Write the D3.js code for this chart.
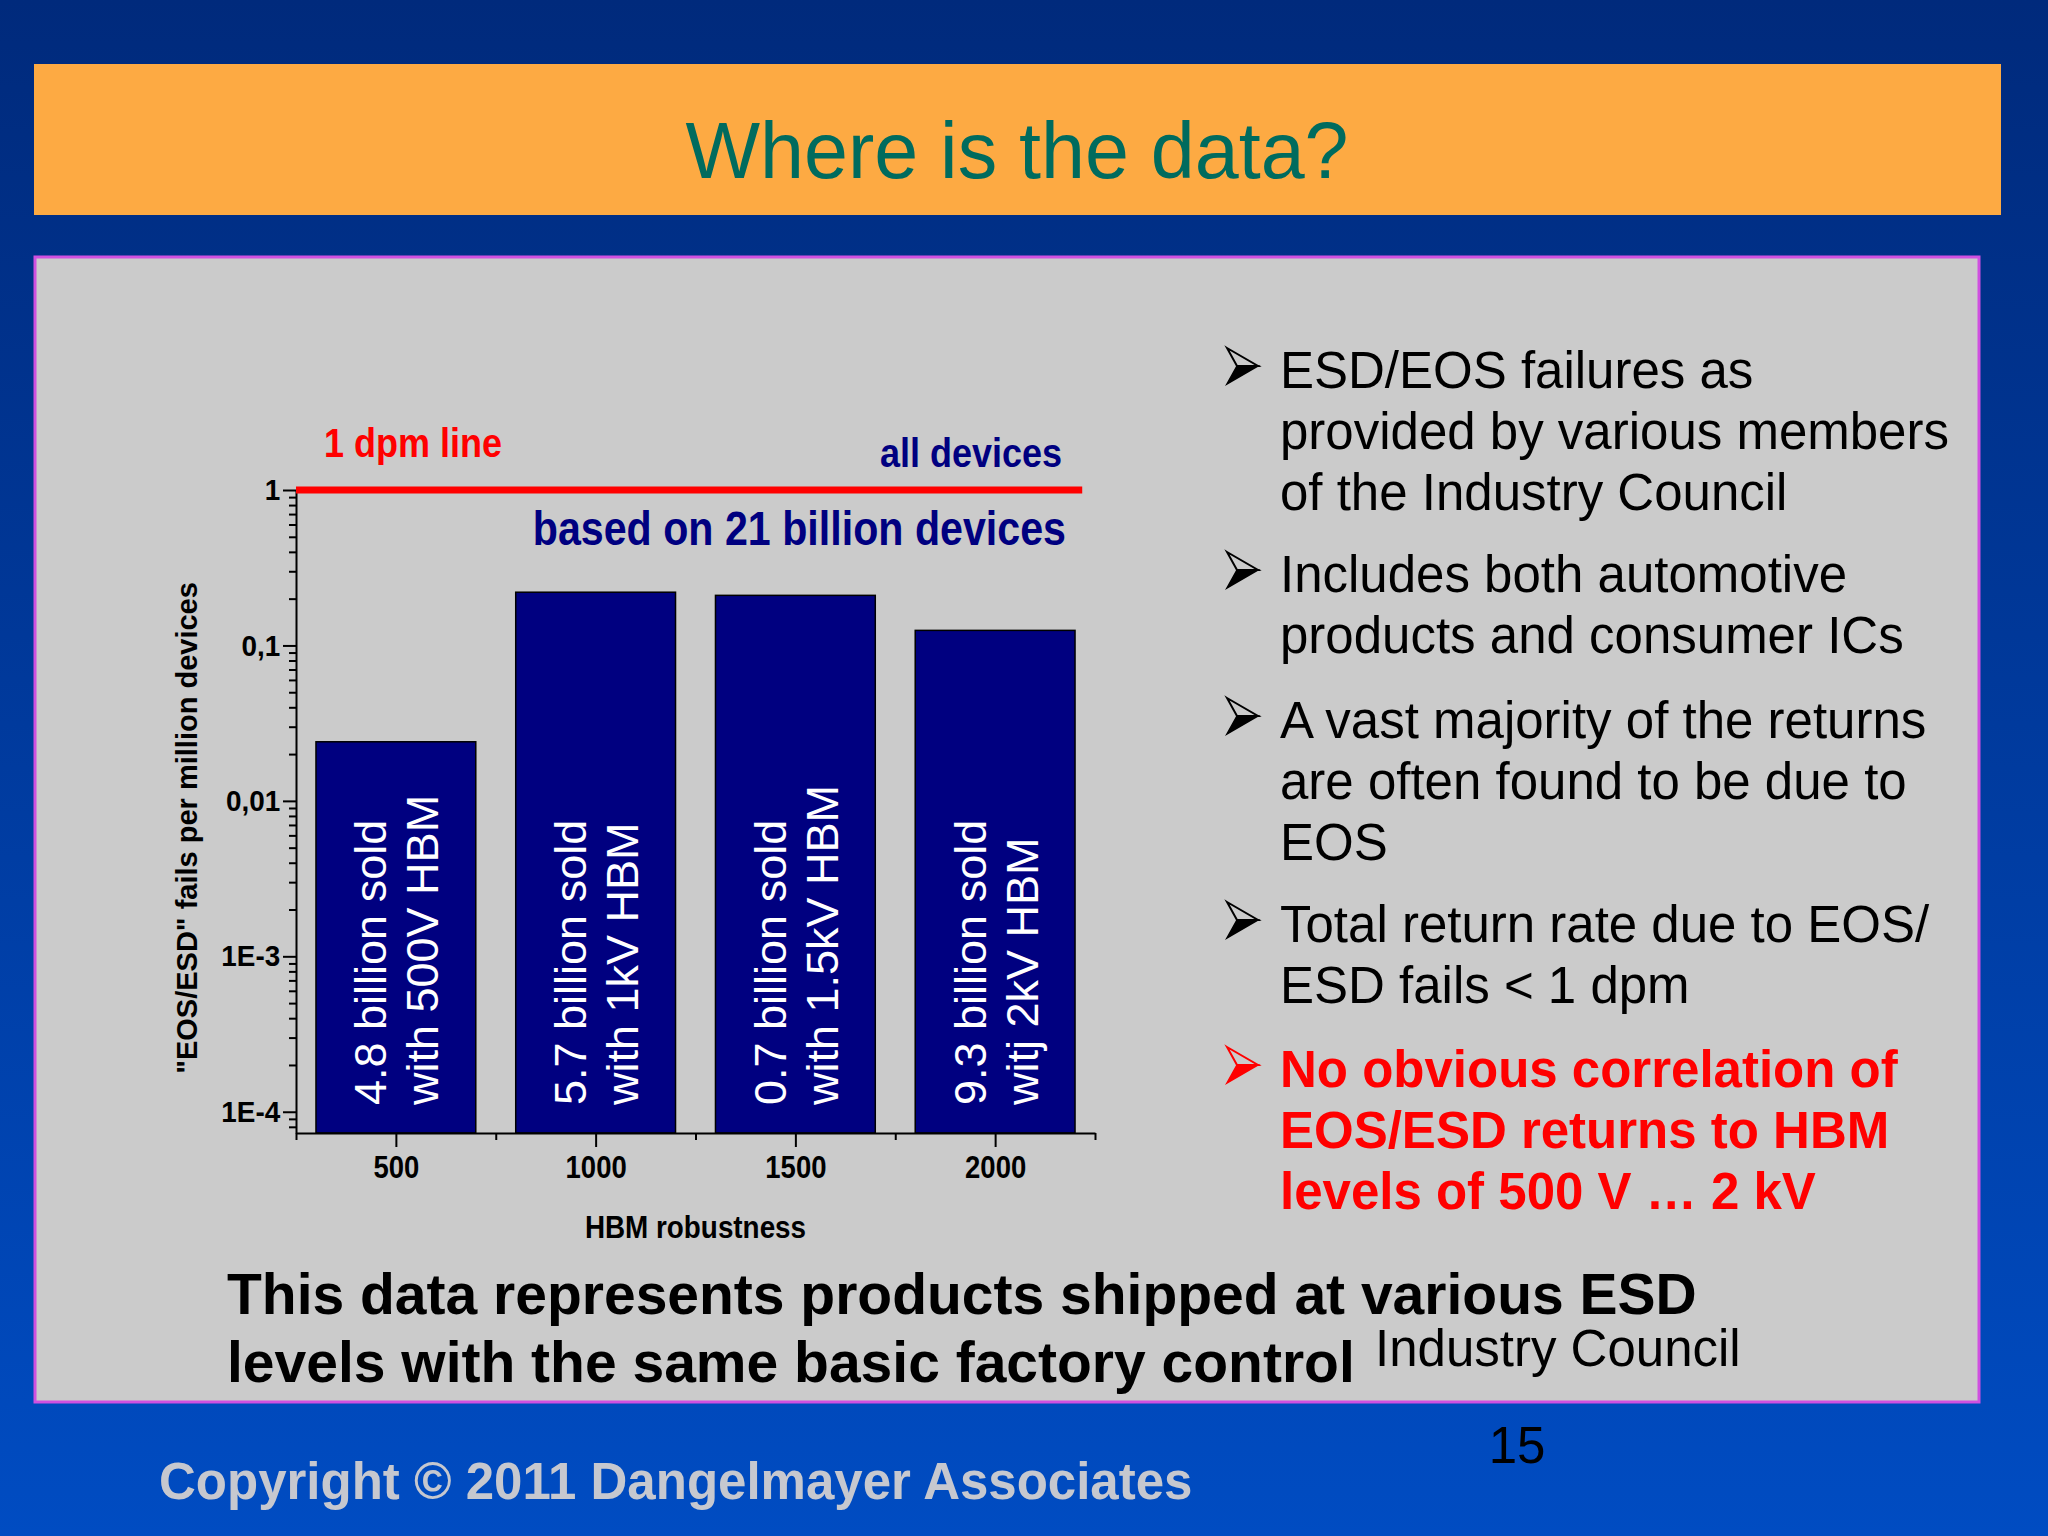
<!DOCTYPE html>
<html>
<head>
<meta charset="utf-8">
<script src="https://cdn.jsdelivr.net/npm/d3@7"></script>
<style>
  body { margin: 0; background: #00338f; }
  svg { display: block; }
  .narrow { font-family: "Liberation Sans Narrow", "Arial Narrow", "Liberation Sans", sans-serif; font-weight: bold; }
</style>
</head>
<body>
<div id="slide"></div>
<script>
// chart values
const hbmLevels = [500, 1000, 1500, 2000];
const failRates = [0.024, 0.22, 0.21, 0.125];
const soldLines = ["4.8 billion sold", "5.7 billion sold", "0.7 billion sold", "9.3 billion sold"];
const hbmLines = ["with 500V HBM", "with 1kV HBM", "with 1.5kV HBM", "witj 2kV HBM"];
const xTickValues = [500, 1000, 1500, 2000];
const xMinorTicks = [250, 750, 1250, 1750, 2250];
const yTickValues = [1, 0.1, 0.01, 1e-3, 1e-4];
const yTickLabels = ["1", "0,1", "0,01", "1E-3", "1E-4"];
const dpmLimit = 1;

const bullets = [
  ["ESD/EOS failures as", "provided by various members", "of the Industry Council"],
  ["Includes both automotive", "products and consumer ICs"],
  ["A vast majority of the returns", "are often found to be due to", "EOS"],
  ["Total return rate due to EOS/", "ESD fails < 1 dpm"],
  ["No obvious correlation of", "EOS/ESD returns to HBM", "levels of 500 V \u2026 2 kV"]
];
const bulletTops = [388, 592, 738, 942, 1087];

const W = 2048, H = 1536;
const svg = d3.select("#slide").append("svg")
    .attr("width", W)
    .attr("height", H);

// narrow bold text: no condensed face installed, so squeeze it
function narrowText(g, x, y, str, size, sx, anchor) {
  return g.append("text").attr("class", "narrow")
      .attr("transform", `translate(${x},${y}) scale(${sx},1)`)
      .attr("text-anchor", anchor || "start")
      .attr("font-size", size)
      .text(str);
}

// background
const defs = svg.append("defs");
const grad = defs.append("linearGradient").attr("id", "bg").attr("x1", 0).attr("y1", 0).attr("x2", 0).attr("y2", 1);
grad.append("stop").attr("offset", "0%").attr("stop-color", "#002a7c");
grad.append("stop").attr("offset", "100%").attr("stop-color", "#004cc2");
svg.append("rect").attr("width", W).attr("height", H).attr("fill", "url(#bg)");

// title bar
svg.append("rect").attr("x", 34).attr("y", 64).attr("width", 1967).attr("height", 151).attr("fill", "#fdaa43");
svg.append("text")
    .attr("x", 1017).attr("y", 178)
    .attr("text-anchor", "middle")
    .attr("font-family", "Liberation Sans, Arial, sans-serif")
    .attr("font-size", 79)
    .attr("fill", "#006b5e")
    .text("Where is the data?");

// grey panel
svg.append("rect").attr("x", 35).attr("y", 257).attr("width", 1944).attr("height", 1145)
    .attr("fill", "#cbcbcb").attr("stroke", "#d050e0").attr("stroke-width", 3);

// ---- chart ----
const x = d3.scaleLinear().domain([250, 2250]).range([296, 1095]);
const y = d3.scaleLog().domain([7.3e-5, 1]).range([1133, 490]);
const barHalf = 200;

const chart = svg.append("g");

chart.selectAll("rect.bar")
    .data(failRates)
    .enter()
    .append("rect")
    .attr("class", "bar")
    .attr("x", (d, i) => x(hbmLevels[i] - barHalf))
    .attr("width", (d, i) => x(hbmLevels[i] + barHalf) - x(hbmLevels[i] - barHalf))
    .attr("y", d => y(d))
    .attr("height", d => y.range()[0] - y(d))
    .attr("fill", "#000080")
    .attr("stroke", "#000")
    .attr("stroke-width", 1.5);

// rotated labels inside bars
const labelG = chart.selectAll("g.blabel")
    .data(hbmLevels)
    .enter()
    .append("g")
    .attr("class", "blabel")
    .attr("transform", d => `translate(${x(d)},${y.range()[0] - 28}) rotate(-90)`);
labelG.append("text")
    .attr("y", -25)
    .attr("dominant-baseline", "central")
    .attr("font-family", "Liberation Sans, Arial, sans-serif")
    .attr("font-size", 45)
    .attr("fill", "#fff")
    .text((d, i) => soldLines[i]);
labelG.append("text")
    .attr("y", 27)
    .attr("dominant-baseline", "central")
    .attr("font-family", "Liberation Sans, Arial, sans-serif")
    .attr("font-size", 45)
    .attr("fill", "#fff")
    .text((d, i) => hbmLines[i]);

// y axis: minor ticks then major ticks
const minorY = y.ticks().filter(v => !yTickValues.some(t => Math.abs(t - v) < t * 1e-6));
chart.append("g")
    .attr("transform", `translate(${x(250)},0)`)
    .call(d3.axisLeft(y).tickValues(minorY).tickSize(7).tickFormat(""))
    .call(g => g.select(".domain").remove());
const yAxis = chart.append("g")
    .attr("transform", `translate(${x(250)},0)`)
    .call(d3.axisLeft(y).tickValues(yTickValues).tickSize(13).tickSizeOuter(0).tickPadding(4)
        .tickFormat((d, i) => yTickLabels[i]));
yAxis.selectAll("text").attr("class", "narrow").attr("font-size", 30).attr("fill", "#000")
    .attr("transform", "scale(0.93,1)");

// x axis
chart.append("g")
    .attr("transform", `translate(0,${y.range()[0]})`)
    .call(d3.axisBottom(x).tickValues(xMinorTicks).tickSize(7).tickFormat(""))
    .call(g => g.select(".domain").remove());
const xAxis = chart.append("g")
    .attr("transform", `translate(0,${y.range()[0]})`)
    .call(d3.axisBottom(x).tickValues(xTickValues).tickSize(14).tickSizeOuter(0).tickPadding(8)
        .tickFormat(d => String(d)));
xAxis.selectAll("text").attr("class", "narrow").attr("font-size", 32).attr("fill", "#000")
    .attr("transform", "scale(0.86,1)");

chart.selectAll(".domain, .tick line").attr("stroke", "#000").attr("stroke-width", 2);

// 1 dpm reference line
chart.append("line")
    .attr("x1", x(250)).attr("x2", x(2218))
    .attr("y1", y(dpmLimit)).attr("y2", y(dpmLimit))
    .attr("stroke", "#ff0000").attr("stroke-width", 7);

narrowText(chart, 324, 457, "1 dpm line", 40, 0.9).attr("fill", "#ff0000");
narrowText(chart, 1062, 467, "all devices", 40, 0.9, "end").attr("fill", "#000080");
narrowText(chart, 1066, 545, "based on 21 billion devices", 48, 0.858, "end").attr("fill", "#000080");

// axis titles
narrowText(chart, x(1250), 1238, "HBM robustness", 32, 0.87, "middle").attr("fill", "#000");
chart.append("text")
    .attr("transform", "translate(187,828) rotate(-90)")
    .attr("text-anchor", "middle")
    .attr("dominant-baseline", "central")
    .attr("font-family", "Liberation Sans, Arial, sans-serif")
    .attr("font-weight", "bold")
    .attr("font-size", 29).attr("fill", "#000")
    .text("\"EOS/ESD\" fails per million devices");

// ---- bullet list ----
const lineGap = 61;
bullets.forEach((lines, bi) => {
  const last = bi === bullets.length - 1;
  const col = last ? "#ff0000" : "#000";
  const ab = svg.append("g").attr("transform", `translate(1240,${bulletTops[bi] - 22})`);
  ab.append("path")
      .attr("d", "M-13,-18 L18,0 L-3,0 Z")
      .attr("fill", "none").attr("stroke", col).attr("stroke-width", 2).attr("stroke-linejoin", "miter");
  ab.append("path")
      .attr("d", "M-3,0 L18,0 L-13,18 Z")
      .attr("fill", col).attr("stroke", col).attr("stroke-width", 1.5);
  lines.forEach((ln, li) => {
    svg.append("text")
        .attr("x", 1280).attr("y", bulletTops[bi] + li * lineGap)
        .attr("font-family", "Liberation Sans, Arial, sans-serif")
        .attr("font-size", 51)
        .attr("font-weight", last ? "bold" : "normal")
        .attr("fill", col)
        .text(ln);
  });
});

// bottom note
const note = ["This data represents products shipped at various ESD", "levels with the same basic factory control"];
note.forEach((ln, i) => {
  svg.append("text")
      .attr("x", 227).attr("y", 1314 + i * 68)
      .attr("font-family", "Liberation Sans, Arial, sans-serif")
      .attr("font-weight", "bold")
      .attr("font-size", 57)
      .attr("fill", "#000")
      .text(ln);
});
svg.append("text")
    .attr("x", 1375).attr("y", 1366)
    .attr("font-family", "Liberation Sans, Arial, sans-serif")
    .attr("font-size", 51)
    .attr("fill", "#000")
    .text("Industry Council");

// footer
svg.append("text")
    .attr("x", 1517).attr("y", 1463)
    .attr("text-anchor", "middle")
    .attr("font-family", "Liberation Sans, Arial, sans-serif")
    .attr("font-size", 51)
    .attr("fill", "#000")
    .text("15");
svg.append("text")
    .attr("x", 159).attr("y", 1499)
    .attr("font-family", "Liberation Sans, Arial, sans-serif")
    .attr("font-weight", "bold")
    .attr("font-size", 51)
    .attr("fill", "#c6c8cf")
    .text("Copyright \u00a9 2011 Dangelmayer Associates");
</script>
</body>
</html>
